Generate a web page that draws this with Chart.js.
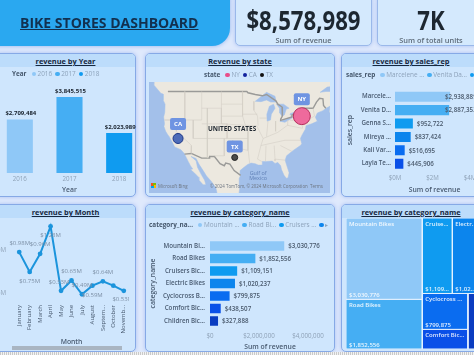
<!DOCTYPE html>
<html>
<head>
<meta charset="utf-8">
<title>Bike Stores Dashboard</title>
<script src="https://cdn.jsdelivr.net/npm/chart.js@4"></script>
<style>
html, body { margin: 0; padding: 0; background: #dfe9fc; }
#page { position: relative; width: 474px; height: 355px; overflow: hidden; font-family: "Open Sans", sans-serif; filter: blur(0.35px); }
#page canvas { position: absolute; }
.header { position: absolute; left: -20px; top: -20px; width: 250px; height: 66px; background: #2aa8f0; border-radius: 0 0 18px 0; box-shadow: 0 0 4px #8fb2ee; }
.header span { position: absolute; left: 40px; top: 33px; font-size: 14px; font-weight: 700; color: #12304f; text-decoration: underline; white-space: nowrap; }
.panel { position: absolute; background: #cfe6fd; border: 1px solid #86a9e6; border-radius: 5px; box-shadow: 0 0 4px #a9c0f2; box-sizing: border-box; overflow: hidden; }
.panel .title { height: 13px; background: #bcdcfb; text-align: center; font-size: 7.4px; line-height: 14px; font-weight: 700; color: #17283f; text-decoration: underline; }
.kpi { position: absolute; top: -5px; height: 51px; background: #d4e9fd; border: 1px solid #9ab8ea; border-radius: 5px; box-shadow: 0 0 4px #a9c0f2; box-sizing: border-box; text-align: center; }
.kpi b { position: absolute; left: 0; right: 0; top: 9px; font-size: 26px; line-height: 30px; color: #1d2731; transform: scaleX(0.853); }
.kpi i { position: absolute; left: 0; right: 0; top: 39px; font-style: normal; font-weight: 600; font-size: 7.4px; line-height: 11px; color: #5d6b79; }
.legend { position: absolute; font-size: 6.4px; line-height: 10px; color: #8ea3bb; white-space: nowrap; }
.legend b { color: #44566b; margin-right: 5px; }
.legend span { margin-right: 3px; }
.legend em { display: inline-block; width: 4.5px; height: 4.5px; border-radius: 50%; margin-right: 1.5px; }
.scroll { position: absolute; left: 12px; top: 346px; width: 110px; height: 3.5px; background: #a9b5c2; }
.strip { position: absolute; left: 0; top: 352px; width: 474px; height: 3px; background: repeating-linear-gradient(90deg, #c9c9c9 0 1px, #f2f2f2 1px 2px); }
.attr { position: absolute; font-size: 4.4px; line-height: 6px; color: #6c7480; white-space: nowrap; }
.logo { position: absolute; left: 151px; top: 183px; width: 5px; height: 5px; background: conic-gradient(#7fba00 0 25%, #ffb900 0 50%, #00a4ef 0 75%, #f25022 0); }
</style>
</head>
<body>
<div id="page">
  <div class="header"><span>BIKE STORES DASHBOARD</span></div>
  <div class="kpi" style="left:235px;width:137px"><b id="kpi-revenue"></b><i>Sum of revenue</i></div>
  <div class="kpi" style="left:377px;width:108px"><b id="kpi-units"></b><i>Sum of total units</i></div>

  <div class="panel" style="left:-5px;top:53px;width:141px;height:144px"><div class="title">revenue by Year</div></div>
  <div class="panel" style="left:145px;top:53px;width:190px;height:144px"><div class="title">Revenue by state</div></div>
  <div class="panel" style="left:341px;top:53px;width:140px;height:144px"><div class="title">revenue by sales_rep</div></div>
  <div class="panel" style="left:-5px;top:204px;width:141px;height:148px"><div class="title">revenue by Month</div></div>
  <div class="panel" style="left:145px;top:204px;width:190px;height:148px"><div class="title">revenue by category_name</div></div>
  <div class="panel" style="left:341px;top:204px;width:140px;height:148px"><div class="title">revenue by category_name</div></div>

  <div class="legend" id="legend-year" style="left:12px;top:69px"></div>
  <div class="legend" id="legend-state" style="left:204px;top:70px"></div>
  <div class="legend" id="legend-rep" style="left:346px;top:70px"></div>
  <div class="legend" id="legend-cat" style="left:149px;top:220px"></div>

  <canvas id="year-chart" width="189" height="114" style="left:-45px;top:80px"></canvas>
  <canvas id="state-chart" width="181" height="111" style="left:149px;top:82px"></canvas>
  <canvas id="rep-chart" width="128" height="108" style="left:346px;top:86px"></canvas>
  <canvas id="month-chart" width="159" height="128" style="left:-30px;top:218px"></canvas>
  <canvas id="cat-chart" width="185" height="115" style="left:149px;top:236px"></canvas>
  <canvas id="tree-chart" width="134" height="131" style="left:346px;top:218px"></canvas>

  <div class="logo"></div>
  <div class="attr" style="left:158px;top:183px">Microsoft Bing</div>
  <div class="attr" style="left:210px;top:183px">© 2024 TomTom, © 2024 Microsoft Corporation &nbsp;Terms</div>
  <div class="scroll"></div>
  <div class="strip"></div>
</div>

<script>
/* Bike stores dashboard */

const kpiRevenue = '$8,578,989';
const kpiUnits = '7K';

const years = ['2016', '2017', '2018'];
const yearRevenue = [2709484, 3845515, 2023989];
const yearTicks = [0, 2000000, 4000000];

const reps = ['Marcele...', 'Venita D...', 'Genna S...', 'Mireya ...', 'Kali Var...', 'Layla Te...'];
const repRevenue = [2938889, 2887353, 952722, 837424, 516695, 445906];
const repLegend = ['Marcelene ...', 'Venita Da...', ''];
const repTicks = [0, 2000000, 4000000];

const months = ['January', 'February', 'March', 'April', 'May', 'June', 'July', 'August', 'Septem...', 'October', 'Novemb...'];
const monthRevenue = [0.98, 0.75, 0.96, 1.28, 0.53, 0.65, 0.49, 0.59, 0.64, 0.59, 0.53];
const monthTicks = [0.5, 1.0];

const categories = ['Mountain Bi...', 'Road Bikes', 'Cruisers Bic...', 'Electric Bikes', 'Cyclocross B...', 'Comfort Bic...', 'Children Bic...'];
const categoryNames = ['Mountain Bikes', 'Road Bikes', 'Cruisers Bicycles', 'Electric Bikes', 'Cyclocross Bicycles', 'Comfort Bicycles', 'Children Bicycles'];
const categoryRevenue = [3030776, 1852556, 1109151, 1020237, 799875, 438507, 327888];
const catLegend = ['Mountain ...', 'Road Bi...', 'Cruisers ...'];
const catTicks = [0, 2000000, 4000000];

const states = ['NY', 'CA', 'TX'];
const stateLon = [-75.5, -119.4, -99.3];
const stateLat = [43, 37, 31.5];

// map outlines as [lon, lat]
const pacific = [[-131,57],[-130,54.5],[-128,51.5],[-128,50.5],[-125.5,48.6],[-124.7,48.4],[-124.7,47],[-124,46],[-124.1,44],[-124.5,42.8],[-124.2,41],[-124.4,40.3],[-123.8,39],[-123,38],[-122.5,37.5],[-122,36.7],[-121.3,35.7],[-120.6,34.6],[-119.2,34.1],[-118.4,33.8],[-117.2,32.7],[-116.5,31.5],[-115.8,30.3],[-115,29],[-114.2,28],[-115,27.8],[-113.5,26.7],[-112.2,25.5],[-112,24.5],[-110.5,23],[-109.5,23],[-110,24.5],[-111,26],[-112.5,28.5],[-113,30.5],[-114.8,31.8],[-113,31.2],[-112,29.5],[-110.5,27.5],[-109.3,25.8],[-107.5,24],[-106,22],[-105.5,20],[-131,20]];
const gulfAtlantic = [[-97.8,20],[-97.5,22],[-97.7,25],[-97.2,26],[-97.4,27.5],[-96,28.5],[-94.7,29.4],[-93.5,29.8],[-92,29.6],[-91,29.2],[-89.5,29.2],[-89.5,30.3],[-88,30.3],[-86,30.4],[-85,29.7],[-84,30],[-83,29],[-82.7,27.8],[-81.8,26],[-81,25.1],[-80.4,25.2],[-80,26.8],[-81,29.5],[-81.4,30.7],[-80.9,32],[-79,33.3],[-77.8,34],[-76,35],[-75.5,35.5],[-76,37],[-75.4,38],[-74.2,39.6],[-74,40.5],[-72,41],[-70,41.7],[-70.7,42.7],[-70,43.8],[-68,44.4],[-66.9,45],[-65.5,45.5],[-65.8,44],[-64,43.5],[-64,20]];
const stLawrence = [[-69,48.8],[-66.5,50],[-64,50.2],[-64,47],[-65,47.5],[-65,49],[-67,49]];
const cuba = [[-85,21.9],[-82.5,23],[-80,23],[-76,21],[-74.2,20.2],[-77.5,19.9],[-78.5,21],[-82,22.3]];
const lakes = [
  [[-92,46.7],[-90,47.8],[-88,48.8],[-85,47.9],[-84.6,46.5],[-86.5,46.5],[-88,47],[-90,46.6]],
  [[-87.8,41.7],[-87.9,43.5],[-87,45.5],[-85.5,46],[-85,45],[-86.3,43.5],[-86.6,42]],
  [[-84.5,46],[-82,46],[-80,45],[-81,44.8],[-81.7,43.3],[-82.5,43],[-83.5,44],[-83.4,45]],
  [[-83.3,41.7],[-81,42.2],[-79,42.9],[-79,42.5],[-81.5,41.4]],
  [[-79.7,43.3],[-77,43.3],[-76.2,44],[-78,44],[-79.5,43.7]]
];
const canadaBorder = [[-123,49],[-95,49],[-94.6,48.7],[-92,48.3],[-89.5,48],[-88,48.3],[-84.7,46.8],[-84,46],[-82.5,45.3],[-82.4,43],[-83,42.2],[-83,41.9],[-79,42.8],[-79,43.3],[-76.5,44],[-75,45],[-71.5,45],[-70.3,46.5],[-69.2,47.4],[-68,47.3],[-67.8,45.7],[-67,45]];
const mexicoBorder = [[-117.1,32.5],[-114.7,32.7],[-111,31.3],[-108.2,31.3],[-108.2,31.8],[-106.5,31.8],[-104.5,29.6],[-103,29],[-102.5,29.8],[-101,29.5],[-99.5,27.5],[-97.2,26]];
const stateLines = [
  [[-117,49],[-117,42],[-124.2,42],[-111,42],[-111,49]], [[-120,42],[-120,39],[-114.6,35],[-114.7,32.7]],
  [[-114,42],[-114,37],[-102,37],[-94.6,37]], [[-109,45],[-109,31.3]], [[-111,45],[-104,45],[-104,49]],
  [[-104,45],[-104,41],[-102,41],[-102,37]], [[-111,41],[-104,41],[-95.5,40.6]], [[-104,43],[-96.5,43]],
  [[-104,46],[-96.6,46]], [[-103,37],[-103,32],[-106.6,32]], [[-100,36.5],[-100,34.5],[-94.5,33.6],[-94,29.7]],
  [[-94.6,39],[-94.6,33.6]], [[-96.6,49],[-96.5,43],[-95.5,40.6],[-91.5,40.5],[-89.2,37],[-90,35],[-91.2,31],[-89.7,30.3]],
  [[-91.2,43.5],[-96.5,43.5]], [[-92.5,46.7],[-92.5,44.5],[-91.2,43],[-91,40.5]], [[-90.5,42.5],[-87.8,42.5]],
  [[-88,37.5],[-87.5,41.7]], [[-84.8,41.7],[-84.8,39]], [[-89.2,37],[-84,38.7],[-80.6,40.6],[-80.5,42]],
  [[-90,35],[-81.5,36.5],[-75.8,36.5]], [[-88.2,35],[-88.4,30.3]], [[-85.3,35],[-85,31],[-85,30.5]], [[-85,31],[-81.4,30.7]],
  [[-83.1,35],[-79,33.3]], [[-80.6,40.6],[-75.3,39.8],[-75,41.5],[-79.8,42]], [[-75,41.5],[-73.5,41],[-73.3,45]], [[-71.5,45],[-71,43],[-73.5,42]]
];
const mapLabels = [['UNITED STATES', -100.25, 39.6, 6.4, '700', '#1f2730'], ['Gulf of', -91, 26.6, 5.4, '400', '#5f7fb5'], ['Mexico', -91, 24.9, 5.4, '400', '#5f7fb5']];

const FONT = '"Open Sans", sans-serif';
const tickGrey = '#8ea1b6';
const axisDark = '#485a70';
const barColors = ['#8fc8f7', '#45aef3', '#0f9bf0', '#0c85ed', '#0a6cf0', '#0a50e8', '#0a3cc0'];
const stateColors = ['#ee6a9c', '#4d6cb9', '#4a4a48'];
const stateEdges = ['#b5305f', '#1c3788', '#222222'];
const stateLegendColors = ['#e84d8a', '#12239e', '#111111'];
const stateRadius = [8.5, 5, 3];
const stateTagRise = [17, 14.5, 11];
// month label nudges, null where the picture shows no label
const monthLabelDy = [-8.6, 9.7, -9.4, 9, -8.7, -8.7, -9, 10, -8.6, null, 8.4];
const monthLabelDx = [0.5, 0, 0, 0, -2, 0, 0, 0, 0, 0, -1];

document.getElementById('kpi-revenue').textContent = kpiRevenue;
document.getElementById('kpi-units').textContent = kpiUnits;

function renderLegend(id, title, names, colors) {
    const el = document.getElementById(id);
    el.innerHTML = `<b>${title}</b>` + names.map((n, i) =>
        `<em style="background:${colors[i]}"></em><span>${n}</span>`).join('');
}
renderLegend('legend-year', 'Year', years, barColors);
renderLegend('legend-state', 'state', states, stateLegendColors);
renderLegend('legend-rep', 'sales_rep', repLegend, barColors);
renderLegend('legend-cat', 'category_na...', catLegend.concat(['▸']), barColors.concat(['transparent']));

const money = v => '$' + Math.round(v).toLocaleString('en-US');
const millions = v => '$' + (v / 1e6) + 'M';

function tickFont(size, weight) {
    return { family: FONT, size: size || 6, weight: weight || '400' };
}

function axisTitle(text) {
    return { display: true, text: text, color: axisDark, padding: 0, font: tickFont(6.8, '600') };
}

// fixed axis boxes so the plot lands where it does in the picture,
// tick label overhang must not push the chart area in
const fitWidth = w => scale => { scale.width = w; scale.paddingTop = 0; scale.paddingBottom = 0; };
const fitHeight = h => scale => { scale.height = h; scale.paddingLeft = 0; scale.paddingRight = 0; };
const setTicks = list => scale => { scale.ticks = list.map(v => ({ value: v })); };

function baseOptions(extra) {
    const opts = Object.assign({
        responsive: false,
        animation: false,
        events: [],
        plugins: { legend: { display: false }, tooltip: { enabled: false } }
    }, extra);
    opts.layout = Object.assign({ autoPadding: false }, extra.layout);
    return opts;
}

// value labels above vertical bars
const labelsAbove = {
    id: 'labelsAbove',
    afterDatasetsDraw(chart) {
        const ctx = chart.ctx;
        ctx.save();
        ctx.font = '700 6px ' + FONT;
        ctx.fillStyle = '#17202b';
        ctx.textAlign = 'center';
        ctx.textBaseline = 'bottom';
        chart.getDatasetMeta(0).data.forEach((bar, i) => {
            ctx.fillText(money(chart.data.datasets[0].data[i]), bar.x + 1, bar.y - 3);
        });
        ctx.restore();
    }
};

// value labels to the right of horizontal bars, pushed back at maxX
function labelsRight(maxX) {
    return {
        id: 'labelsRight',
        afterDatasetsDraw(chart) {
            const ctx = chart.ctx;
            ctx.save();
            ctx.font = '600 6.2px ' + FONT;
            ctx.fillStyle = '#4a5a6d';
            ctx.textBaseline = 'middle';
            chart.getDatasetMeta(0).data.forEach((bar, i) => {
                ctx.fillText(money(chart.data.datasets[0].data[i]), Math.min(bar.x + 4, maxX), bar.y + 0.5);
            });
            ctx.restore();
        }
    };
}

// Year
new Chart(document.getElementById('year-chart').getContext('2d'), {
    type: 'bar',
    data: { labels: years, datasets: [{ data: yearRevenue, backgroundColor: barColors, barPercentage: 0.525, categoryPercentage: 1 }] },
    options: baseOptions({
        layout: { padding: { top: 4 } },
        scales: {
            x: { grid: { display: false, drawTicks: false }, border: { display: false }, afterFit: fitHeight(21),
                 title: axisTitle('Year'), ticks: { color: tickGrey, font: tickFont(6.2), padding: 3 } },
            y: { min: 0, max: 4500000, grid: { display: false, drawTicks: false }, border: { display: false }, afterFit: fitWidth(40),
                 afterBuildTicks: setTicks(yearTicks),
                 ticks: { autoSkip: false, padding: -6, color: tickGrey, font: tickFont(6.2), callback: millions } }
        }
    }),
    plugins: [labelsAbove]
});

// Sales rep
new Chart(document.getElementById('rep-chart').getContext('2d'), {
    type: 'bar',
    data: { labels: reps, datasets: [{ data: repRevenue, backgroundColor: barColors, barPercentage: 0.75, categoryPercentage: 1 }] },
    options: baseOptions({
        indexAxis: 'y',
        layout: { padding: { top: 4 } },
        scales: {
            x: { min: 0, max: 4213000, grid: { display: false, drawTicks: false }, border: { display: false }, afterFit: fitHeight(23.6),
                 title: axisTitle('Sum of revenue'), afterBuildTicks: setTicks(repTicks),
                 ticks: { autoSkip: false, maxRotation: 0, padding: 4, color: tickGrey, font: tickFont(6.2), callback: millions } },
            y: { grid: { display: false, drawTicks: false }, border: { display: false }, afterFit: fitWidth(49),
                 title: axisTitle('sales_rep'),
                 ticks: { autoSkip: false, padding: 4, color: axisDark, font: tickFont(6.2, '600') } }
        }
    }),
    plugins: [labelsRight(445 - 346)]
});

// Month
const monthLabels = {
    id: 'monthLabels',
    afterDatasetsDraw(chart) {
        const ctx = chart.ctx;
        ctx.save();
        ctx.font = '400 6px ' + FONT;
        ctx.fillStyle = '#7d90a6';
        ctx.textAlign = 'center';
        ctx.textBaseline = 'middle';
        chart.getDatasetMeta(0).data.forEach((pt, i) => {
            if (monthLabelDy[i] === null) return;
            ctx.fillText('$' + monthRevenue[i].toFixed(2) + 'M', pt.x + monthLabelDx[i], pt.y + monthLabelDy[i]);
        });
        ctx.restore();
    }
};

new Chart(document.getElementById('month-chart').getContext('2d'), {
    type: 'line',
    data: { labels: months, datasets: [{ data: monthRevenue, borderColor: '#1b94dc', borderWidth: 2, tension: 0,
        pointRadius: 2.4, pointBackgroundColor: '#1b94dc', pointBorderWidth: 0 }] },
    options: baseOptions({
        layout: { padding: { top: 2 } },
        scales: {
            x: { offset: true, grid: { display: false, drawTicks: false }, border: { display: false }, afterFit: fitHeight(44),
                 title: axisTitle('Month'),
                 ticks: { autoSkip: false, minRotation: 90, maxRotation: 90, padding: 3, color: axisDark, font: tickFont(6) } },
            y: { min: 0.4, max: 1.353, grid: { display: false, drawTicks: false }, border: { display: false }, afterFit: fitWidth(44),
                 afterBuildTicks: setTicks(monthTicks),
                 ticks: { autoSkip: false, padding: 8, color: tickGrey, font: tickFont(6.2), callback: v => '$' + v.toFixed(1) + 'M' } }
        }
    }),
    plugins: [monthLabels]
});

// Category bars
new Chart(document.getElementById('cat-chart').getContext('2d'), {
    type: 'bar',
    data: { labels: categories, datasets: [{ data: categoryRevenue, backgroundColor: barColors, barPercentage: 0.76, categoryPercentage: 1 }] },
    options: baseOptions({
        indexAxis: 'y',
        layout: { padding: { top: 3.75, right: 4 } },
        scales: {
            x: { min: 0, max: 4900000, grid: { display: false, drawTicks: false }, border: { display: false }, afterFit: fitHeight(23.75),
                 title: axisTitle('Sum of revenue'), afterBuildTicks: setTicks(catTicks),
                 ticks: { autoSkip: false, maxRotation: 0, padding: 5, color: tickGrey, font: tickFont(6.2), callback: money } },
            y: { grid: { display: false, drawTicks: false }, border: { display: false }, afterFit: fitWidth(61),
                 title: axisTitle('category_name'),
                 ticks: { autoSkip: false, padding: 5, color: axisDark, font: tickFont(6.2, '600') } }
        }
    }),
    plugins: [labelsRight(999)]
});

// Treemap: rectangles come from the revenue values, drawn as closed scatter lines on 0..1 scales
const treeTotal = categoryRevenue.reduce((a, b) => a + b, 0);
const [vMtb, vRoad, vCruise, vElec, vCyclo, vComfort, vKids] = categoryRevenue;

function treeRects() {
    const col1 = (vMtb + vRoad) / treeTotal;
    const rest = treeTotal - vMtb - vRoad;
    const midY = (vCruise + vElec) / rest;
    const cruiseEnd = col1 + (1 - col1) * vCruise / (vCruise + vElec);
    const cycloEnd = col1 + (1 - col1) * (vCyclo + vComfort) / (vCyclo + vComfort + vKids);
    const cycloY = midY + (1 - midY) * vCyclo / (vCyclo + vComfort);
    const roadY = vMtb / (vMtb + vRoad);
    return [
        [0, 0, col1, roadY], [0, roadY, col1, 1],
        [col1, 0, cruiseEnd, midY], [cruiseEnd, 0, 1, midY],
        [col1, midY, cycloEnd, cycloY], [col1, cycloY, cycloEnd, 1], [cycloEnd, midY, 1, 1]
    ];
}

function fitText(ctx, text, width) {
    if (ctx.measureText(text).width <= width) return text;
    let s = text;
    while (s.length > 1 && ctx.measureText(s + '...').width > width) s = s.slice(0, -1);
    return s.length > 1 ? s + '...' : '';
}

const treeLabels = {
    id: 'treeLabels',
    afterDatasetsDraw(chart) {
        const ctx = chart.ctx, sx = chart.scales.x, sy = chart.scales.y;
        ctx.save();
        ctx.font = '600 6px ' + FONT;
        ctx.fillStyle = 'rgba(255,255,255,0.88)';
        treeRects().forEach((r, i) => {
            const left = sx.getPixelForValue(r[0]), right = sx.getPixelForValue(r[2]);
            const top = sy.getPixelForValue(r[1]), bottom = sy.getPixelForValue(r[3]);
            const room = right - left - 5;
            ctx.textBaseline = 'top';
            ctx.fillText(fitText(ctx, categoryNames[i], room), left + 3, top + 3);
            if (bottom - top > 25) {
                ctx.textBaseline = 'bottom';
                ctx.fillText(fitText(ctx, money(categoryRevenue[i]), room), left + 3, bottom - 1);
            }
        });
        ctx.restore();
    }
};

new Chart(document.getElementById('tree-chart').getContext('2d'), {
    type: 'scatter',
    data: { datasets: treeRects().map((r, i) => ({
        data: [{ x: r[0], y: r[1] }, { x: r[2], y: r[1] }, { x: r[2], y: r[3] }, { x: r[0], y: r[3] }, { x: r[0], y: r[1] }],
        showLine: true, fill: 'shape', backgroundColor: barColors[i], borderColor: '#e6f2ff', borderWidth: 1, pointRadius: 0
    })) },
    options: baseOptions({
        scales: { x: { display: false, min: 0, max: 1 }, y: { display: false, min: 0, max: 1, reverse: true } }
    }),
    plugins: [treeLabels]
});

// Map: lon/lat through a mercator y value on two linear scales
const merc = lat => Math.log(Math.tan(Math.PI / 4 + lat * Math.PI / 360)) * 180 / Math.PI;
const toXY = p => ({ x: p[0], y: merc(p[1]) });
const water = '#a3c0ea';

function waterSet(shape) {
    return { data: shape.concat([shape[0]]).map(toXY), showLine: true, fill: 'shape', backgroundColor: water, borderColor: water, borderWidth: 0.5, pointRadius: 0 };
}
function lineSet(shape, color, width) {
    return { data: shape.map(toXY), showLine: true, fill: false, borderColor: color, borderWidth: width, pointRadius: 0 };
}

const stateTags = {
    id: 'stateTags',
    afterDatasetsDraw(chart) {
        const ctx = chart.ctx, sx = chart.scales.x, sy = chart.scales.y;
        ctx.save();
        ctx.textAlign = 'center';
        ctx.textBaseline = 'middle';
        mapLabels.forEach(l => {
            ctx.font = l[4] + ' ' + l[3] + 'px ' + FONT;
            ctx.fillStyle = l[5];
            ctx.fillText(l[0], sx.getPixelForValue(l[1]), sy.getPixelForValue(merc(l[2])));
        });
        ctx.font = '700 6px ' + FONT;
        states.forEach((s, i) => {
            const x = sx.getPixelForValue(stateLon[i]);
            const y = sy.getPixelForValue(merc(stateLat[i])) - stateTagRise[i];
            ctx.fillStyle = '#6f94e2';
            ctx.beginPath();
            ctx.roundRect(x - 8, y - 6, 16, 12, 2);
            ctx.fill();
            ctx.fillStyle = '#ffffff';
            ctx.fillText(s, x, y + 0.5);
        });
        ctx.restore();
    }
};

new Chart(document.getElementById('state-chart').getContext('2d'), {
    type: 'scatter',
    data: { datasets: [
        // bubbles first in the list so they sit on top
        { data: states.map((s, i) => toXY([stateLon[i], stateLat[i]])), pointRadius: stateRadius, pointBackgroundColor: stateColors,
          pointBorderColor: stateEdges, pointBorderWidth: 1, order: -1 },
        ...stateLines.map(s => lineSet(s, '#d3cfc6', 0.6)),
        lineSet(canadaBorder, '#9a9a98', 1.4),
        lineSet(mexicoBorder, '#9a9a98', 1.4),
        waterSet(pacific), waterSet(gulfAtlantic), waterSet(stLawrence), waterSet(cuba),
        ...lakes.map(waterSet)
    ] },
    options: baseOptions({
        scales: { x: { display: false, min: -129.7, max: -65.5 }, y: { display: false, min: 20.75, max: 59.7 } }
    }),
    plugins: [{
        id: 'land',
        beforeDraw(chart) {
            const a = chart.chartArea;
            chart.ctx.fillStyle = '#ece8df';
            chart.ctx.fillRect(a.left, a.top, a.right - a.left, a.bottom - a.top);
        }
    }, stateTags]
});
</script>
</body>
</html>
